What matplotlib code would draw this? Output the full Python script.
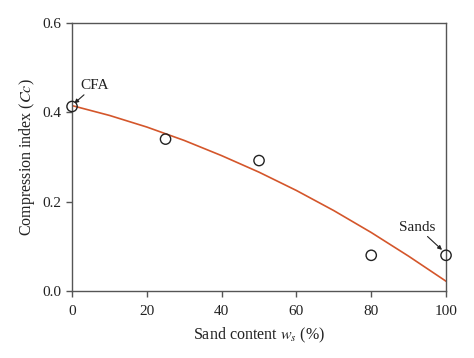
"""
Compression index vs sand content
"""
import matplotlib
matplotlib.use('Agg')
import matplotlib.pyplot as plt

# Measured points
sand_content = [0, 25, 50, 80, 100]
comp_index = [0.413, 0.340, 0.292, 0.080, 0.080]

# Fitted trend line
fit_x = [0, 10, 20, 30, 40, 50, 60, 70, 80, 90, 100]
fit_y = [0.415, 0.393, 0.367, 0.337, 0.303, 0.266, 0.225, 0.180, 0.131, 0.078, 0.022]

plt.rcParams['font.family'] = ['Liberation Serif', 'DejaVu Serif']
plt.rcParams['mathtext.fontset'] = 'stix'

fig = plt.figure(figsize=(4.74, 3.58), dpi=100)
ax = fig.add_axes([0.152, 0.187, 0.789, 0.749])

ax.plot(fit_x, fit_y, color='#d4562b', linewidth=1.2, zorder=2)
ax.scatter(sand_content, comp_index, s=55, facecolors='none',
           edgecolors='#222222', linewidths=1.0, zorder=3, clip_on=False)

# Labels for end members
ax.annotate('CFA', xy=(0.6, 0.420), xytext=(2.2, 0.452),
            fontsize=11, color='#222222',
            arrowprops=dict(arrowstyle='-|>', color='#222222', lw=0.8,
                            mutation_scale=6, shrinkA=0, shrinkB=0))
ax.annotate('Sands', xy=(99.2, 0.090), xytext=(87.5, 0.135),
            fontsize=11, color='#222222',
            arrowprops=dict(arrowstyle='-|>', color='#222222', lw=0.8,
                            mutation_scale=6, shrinkA=0, shrinkB=1))

ax.set_xlim(0, 100)
ax.set_ylim(0, 0.6)
ax.set_xticks([0, 20, 40, 60, 80, 100])
ax.set_yticks([0.0, 0.2, 0.4, 0.6])
ax.set_yticklabels(['0.0', '0.2', '0.4', '0.6'])

for s in ax.spines.values():
    s.set_color('#555555')
    s.set_linewidth(1.0)
ax.tick_params(direction='out', length=4, width=1.0, color='#555555',
               labelsize=11, labelcolor='#222222')
ax.tick_params(axis='x', pad=6)

ax.set_xlabel('Sand content $w_s$ (%)', fontsize=11.5, color='#222222',
              labelpad=6)
ax.set_ylabel('Compression index ($Cc$)', fontsize=11.5, color='#222222')

plt.savefig('out.png', dpi=100)
plt.close()
